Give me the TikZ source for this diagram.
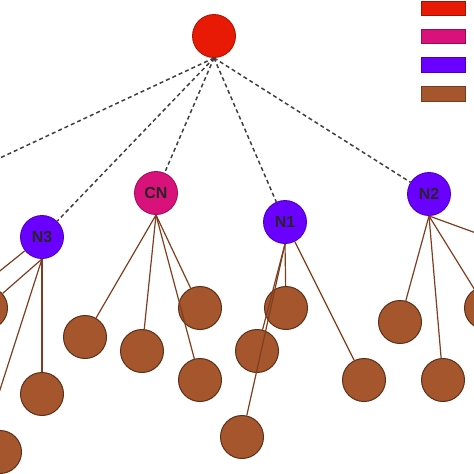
\documentclass[tikz,border=0pt]{standalone}
\usepackage{fontspec}
\setmainfont{Liberation Sans}
\definecolor{NetRed}{HTML}{E81A06}
\definecolor{NetPink}{HTML}{D8127A}
\definecolor{NetViolet}{HTML}{6A00FF}
\definecolor{NetBrown}{HTML}{A5562D}
\definecolor{NetEdge}{HTML}{7E3E1E}

\begin{document}
\begin{tikzpicture}[
      x=1pt, y=-1pt,
      hub/.style={
        circle,
        draw=#1!75!black,
        fill=#1,
        line width=0.9pt,
        minimum size=43pt,
        inner sep=0pt,
        text=black!85,
        font=\fontsize{16}{16}\selectfont\bfseries
      },
      leaf/.style={
        circle,
        draw=NetBrown!55!black,
        fill=NetBrown,
        line width=1pt,
        minimum size=43pt,
        inner sep=0pt
      },
      key/.style={draw=#1!70!black, fill=#1, line width=0.8pt},
      uplink/.style={dashed, dash pattern=on 4pt off 3pt, line width=1.5pt, draw=black!75},
      tie/.style={line width=1.2pt, draw=NetEdge}
    ]
    \clip (0,0) rectangle (474,474);

    % hubs
    \node[hub=NetRed] (root) at (214,36) {};
    \node[hub=NetPink] (cn) at (156,193) {CN};
    \node[hub=NetViolet] (n1) at (285,222) {N1};
    \node[hub=NetViolet] (n2) at (429,194) {N2};
    \node[hub=NetViolet] (n3) at (42,237) {N3};
    \coordinate (farW) at (-60,186);

    % leaves
    \node[leaf] (n3a) at (-14,308) {};
    \node[leaf] (n3b) at (42,394) {};
    \node[leaf] (lowW) at (0,452) {};
    \coordinate (n3c) at (-30,295);
    \coordinate (n3d) at (-20,452);
    \node[leaf] (cna) at (85,337) {};
    \node[leaf] (cnb) at (142,351) {};
    \node[leaf] (cnc) at (200,308) {};
    \node[leaf] (cnd) at (200,380) {};
    \node[leaf] (n1a) at (286,308) {};
    \node[leaf] (n1b) at (257,351) {};
    \node[leaf] (n1c) at (242,437) {};
    \node[leaf] (n1d) at (364,380) {};
    \node[leaf] (n2a) at (400,322) {};
    \node[leaf] (n2b) at (443,380) {};
    \node[leaf] (n2c) at (486,308) {};
    \coordinate (n2d) at (520,249);

    % links to the root
    \draw[uplink] (root.south) -- (farW);
    \draw[uplink] (root.south) -- (n3);
    \draw[uplink] (root.south) -- (cn);
    \draw[uplink] (root.south) -- (n1);
    \draw[uplink] (root.south) -- (n2);

    % links to the leaves
    \draw[tie] (n3) -- (n3c);
    \draw[tie] (n3.south) -- (n3a);
    \draw[tie] (n3.south) -- (n3d);
    \draw[tie] (n3.south) -- (n3b);
    \draw[tie] (cn.south) -- (cna);
    \draw[tie] (cn.south) -- (cnb);
    \draw[tie] (cn.south) -- (cnc);
    \draw[tie] (cn.south) -- (cnd);
    \draw[tie] (n1.south) -- (n1a);
    \draw[tie] (n1.south) -- (n1b);
    \draw[tie] (n1.south) -- (n1c);
    \draw[tie] (n1) -- (n1d);
    \draw[tie] (n2.south) -- (n2a);
    \draw[tie] (n2.south) -- (n2b);
    \draw[tie] (n2.south) -- (n2c);
    \draw[tie] (n2.south) -- (n2d);

    % legend
    \draw[key=NetRed] (421,1) rectangle (465,15);
    \draw[key=NetPink] (421,29) rectangle (465,43);
    \draw[key=NetViolet] (421,57) rectangle (465,72);
    \draw[key=NetBrown] (421,86) rectangle (465,101);
  \end{tikzpicture}
\end{document}
